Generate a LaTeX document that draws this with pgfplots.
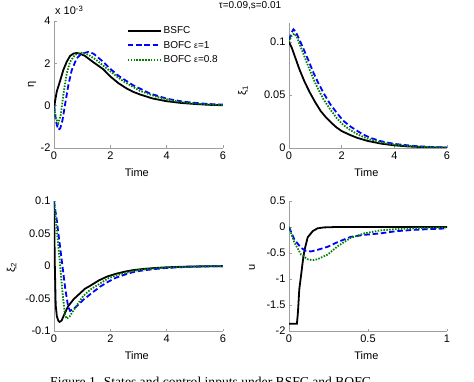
\documentclass[border=0pt]{standalone}
\usepackage{pgfplots}
\pgfplotsset{compat=1.18}
\usepackage{fontspec}
\setmainfont{Liberation Sans}
\newfontfamily\capfont{Liberation Serif}
\definecolor{axgray}{gray}{0.62}
\definecolor{mgreen}{rgb}{0,0.5,0}
\definecolor{mblue}{rgb}{0,0,1}
\pgfplotsset{
  myax/.style={
    scale only axis,
    axis x line*=bottom, axis y line*=left,
    axis line style={draw=axgray, line width=0.8pt, -},
    tick style={draw=axgray, line width=0.6pt},
    tick align=inside, major tick length=2.5pt,
    ticklabel style={font=\fontsize{11}{12}\selectfont, text=black},
    label style={font=\fontsize{11}{12}\selectfont},
    /pgf/number format/assume math mode=true,
    scaled ticks=false,
    xlabel={Time},
    xlabel style={at={(axis description cs:0.49,0)}, anchor=center, yshift=-25pt},
  },
}
\begin{document}
\begin{tikzpicture}
% ---------- eta ----------
\begin{axis}[myax, at={(54pt,-148pt)}, anchor=south west, width=169pt, height=127pt,
  xmin=0, xmax=6, ymin=-2, ymax=4,
  xtick={0,2,4,6}, xticklabels={0,2,4,6},
  ytick={-2,0,2,4}, yticklabels={-2,0,2,4},
  ylabel={η}, ylabel style={at={(axis description cs:-0.13,0.5)}, anchor=center},
  legend style={at={(0.43,0.975)}, anchor=north west, draw=none, fill=none,
    font=\fontsize{10}{11}\selectfont, row sep=2.2pt, inner sep=0pt},
  legend cell align=left,
  legend image code/.code={\draw[#1] (0pt,0pt) -- (33pt,0pt);},
]
\addplot[color=black, line width=1.8pt] coordinates {(0,-0.2)(0.035,0.19)(0.1,0.68)(0.2,1.1)(0.33,1.68)(0.45,2.07)(0.57,2.35)(0.69,2.46)(0.8,2.49)(0.92,2.46)(1.1,2.35)(1.4,2.05)(1.75,1.72)(2.0,1.38)(2.28,1.07)(2.57,0.82)(2.8,0.66)(3.05,0.53)(3.5,0.34)(4.0,0.21)(4.5,0.13)(5.0,0.08)(5.5,0.04)(6.0,0.02)};
\addlegendentry{BSFC}
\addplot[color=mblue, line width=1.8pt, dash pattern=on 5.5pt off 2.8pt] coordinates {(0,0)(0.07,-0.75)(0.15,-1.14)(0.22,-1.08)(0.3,-0.7)(0.39,0.03)(0.51,0.97)(0.63,1.68)(0.8,2.22)(0.98,2.46)(1.22,2.54)(1.4,2.46)(1.75,2.07)(2.0,1.74)(2.28,1.42)(2.8,0.97)(3.4,0.58)(4.0,0.33)(4.58,0.19)(5.17,0.11)(5.6,0.07)(6.0,0.05)};
\addlegendentry{BOFC {\fontsize{8.5}{9}\selectfont ε}=1}
\addplot[color=mgreen, line width=1.8pt, dash pattern=on 1.5pt off 1.4pt] coordinates {(0,0)(0.07,-0.6)(0.15,-0.83)(0.24,-0.44)(0.33,0.5)(0.45,1.52)(0.57,2.07)(0.75,2.41)(0.98,2.5)(1.22,2.41)(1.51,2.15)(1.87,1.76)(2.28,1.33)(2.46,1.15)(3.05,0.7)(3.64,0.42)(4.23,0.23)(4.8,0.13)(5.17,0.09)(5.6,0.05)(6.0,0.03)};
\addlegendentry{BOFC {\fontsize{8.5}{9}\selectfont ε}=0.8}
\end{axis}
% ---------- xi1 ----------
\begin{axis}[myax, at={(289pt,-148pt)}, anchor=south west, width=158pt, height=125pt,
  xmin=0, xmax=6, ymin=0, ymax=0.118,
  xtick={0,2,4,6}, xticklabels={0,2,4,6},
  ytick={0,0.05,0.1}, yticklabels={0,0.05,0.1},
  ylabel={ξ\textsubscript{1}}, ylabel style={at={(axis description cs:-0.29,0.46)}, anchor=center},
]
\addplot[color=black, line width=1.8pt] coordinates {(0,0.1)(0.1,0.095)(0.2,0.088)(0.3,0.081)(0.4,0.074)(0.5,0.068)(0.6,0.062)(0.8,0.052)(1.0,0.043)(1.2,0.035)(1.4,0.029)(1.6,0.024)(1.8,0.0195)(2.0,0.016)(2.3,0.0125)(2.6,0.0095)(3.0,0.0066)(3.5,0.0041)(4.0,0.0025)(4.5,0.0015)(5,0.0009)(5.5,0.0005)(6,0.0003)};
\addplot[color=mblue, line width=1.8pt, dash pattern=on 5.5pt off 2.8pt] coordinates {(0,0.102)(0.1,0.109)(0.17,0.112)(0.25,0.11)(0.4,0.102)(0.56,0.093)(0.75,0.082)(0.93,0.071)(1.1,0.062)(1.31,0.052)(1.55,0.042)(1.82,0.033)(2.05,0.026)(2.32,0.0205)(2.6,0.016)(2.83,0.0126)(3.1,0.0095)(3.46,0.0066)(3.8,0.0048)(4.09,0.0036)(4.4,0.0028)(4.72,0.002)(5.2,0.0012)(5.6,0.0008)(6,0.0005)};
\addplot[color=mgreen, line width=1.8pt, dash pattern=on 1.5pt off 1.4pt] coordinates {(0,0.1)(0.1,0.106)(0.2,0.108)(0.3,0.105)(0.4,0.098)(0.56,0.088)(0.75,0.076)(0.93,0.065)(1.1,0.056)(1.31,0.046)(1.55,0.037)(1.82,0.028)(2.05,0.022)(2.32,0.017)(2.6,0.013)(2.83,0.0104)(3.1,0.008)(3.46,0.0055)(3.8,0.004)(4.09,0.003)(4.5,0.002)(5,0.0012)(5.5,0.0007)(6,0.0004)};
\end{axis}
% ---------- xi2 ----------
\begin{axis}[myax, at={(54pt,-331pt)}, anchor=south west, width=169pt, height=130pt,
  xmin=0, xmax=6, ymin=-0.1, ymax=0.1,
  xtick={0,2,4,6}, xticklabels={0,2,4,6},
  ytick={-0.1,-0.05,0,0.05,0.1}, yticklabels={-0.1,-0.05,0,0.05,0.1},
  ylabel={ξ\textsubscript{2}}, ylabel style={at={(axis description cs:-0.25,0.49)}, anchor=center},
]
\addplot[color=black, line width=1.8pt] coordinates {(0,0.1)(0.03,0.0)(0.06,-0.06)(0.1,-0.077)(0.15,-0.084)(0.2,-0.086)(0.27,-0.084)(0.35,-0.076)(0.5,-0.062)(0.7,-0.051)(0.9,-0.043)(1.1,-0.035)(1.3,-0.03)(1.6,-0.022)(1.9,-0.016)(2.2,-0.012)(2.5,-0.0088)(2.8,-0.0064)(3.2,-0.0044)(3.6,-0.003)(4,-0.002)(4.5,-0.0012)(5,-0.0007)(5.5,-0.0004)(6,-0.0002)};
\addplot[color=mblue, line width=1.8pt, dash pattern=on 5.5pt off 2.8pt] coordinates {(0,0.1)(0.1,0.07)(0.2,0.035)(0.3,0.0)(0.4,-0.035)(0.5,-0.062)(0.57,-0.069)(0.7,-0.066)(0.85,-0.06)(1.04,-0.052)(1.3,-0.043)(1.63,-0.032)(1.93,-0.024)(2.2,-0.018)(2.5,-0.0135)(2.8,-0.0095)(3.05,-0.0075)(3.5,-0.005)(4,-0.003)(4.5,-0.0018)(5,-0.001)(5.5,-0.0006)(6,-0.0003)};
\addplot[color=mgreen, line width=1.8pt, dash pattern=on 1.5pt off 1.4pt] coordinates {(0,0.1)(0.1,0.055)(0.2,0.01)(0.3,-0.04)(0.39,-0.075)(0.45,-0.081)(0.55,-0.078)(0.7,-0.068)(0.85,-0.058)(1.04,-0.046)(1.3,-0.036)(1.63,-0.027)(1.93,-0.019)(2.2,-0.0145)(2.5,-0.011)(2.8,-0.0078)(3.05,-0.006)(3.5,-0.004)(4,-0.0025)(4.5,-0.0015)(5,-0.0009)(5.5,-0.0005)(6,-0.0003)};
\end{axis}
% ---------- u ----------
\begin{axis}[myax, at={(289pt,-331pt)}, anchor=south west, width=158pt, height=130pt,
  xmin=0, xmax=1, ymin=-2, ymax=0.5,
  xtick={0,0.5,1}, xticklabels={0,0.5,1},
  ytick={-2,-1.5,-1,-0.5,0,0.5}, yticklabels={-2,-1.5,-1,-0.5,0,0.5},
  ylabel={u}, ylabel style={at={(axis description cs:-0.234,0.49)}, anchor=center},
]
\addplot[color=black, line width=1.8pt] coordinates {(0,-1.86)(0.05,-1.86)(0.055,-1.7)(0.059,-1.52)(0.065,-1.2)(0.076,-0.94)(0.086,-0.69)(0.097,-0.46)(0.118,-0.2)(0.15,-0.08)(0.18,-0.026)(0.22,-0.008)(0.3,0)(1,0)};
\addplot[color=mblue, line width=1.8pt, dash pattern=on 5.5pt off 2.8pt] coordinates {(0,0)(0.034,-0.24)(0.076,-0.4)(0.108,-0.46)(0.139,-0.47)(0.18,-0.44)(0.245,-0.38)(0.308,-0.29)(0.39,-0.19)(0.48,-0.15)(0.577,-0.123)(0.68,-0.08)(0.79,-0.055)(0.89,-0.04)(1,-0.027)};
\addplot[color=mgreen, line width=1.8pt, dash pattern=on 1.5pt off 1.4pt] coordinates {(0,0)(0.034,-0.3)(0.076,-0.53)(0.118,-0.62)(0.15,-0.64)(0.18,-0.62)(0.245,-0.53)(0.308,-0.37)(0.39,-0.21)(0.48,-0.12)(0.577,-0.066)(0.68,-0.04)(0.79,-0.025)(0.89,-0.014)(1,-0.008)};
\end{axis}
% ---------- texts ----------
\node[anchor=base west, font=\fontsize{11}{12}\selectfont, inner sep=0pt] at (55pt,-15pt) {x 10\textsuperscript{-3}};
\node[anchor=center, font=\fontsize{10}{12}\selectfont, inner sep=0pt] at (250pt,-5.5pt) {τ=0.09,s=0.01};
\node[anchor=base west, font=\capfont\fontsize{13.6}{15}\selectfont, inner sep=0pt] at (50pt,-386pt) {Figure 1. States and control inputs under BSFC and BOFC};
\pgfresetboundingbox
\useasboundingbox (0,0) rectangle (474pt,-382pt);
\end{tikzpicture}
\end{document}
